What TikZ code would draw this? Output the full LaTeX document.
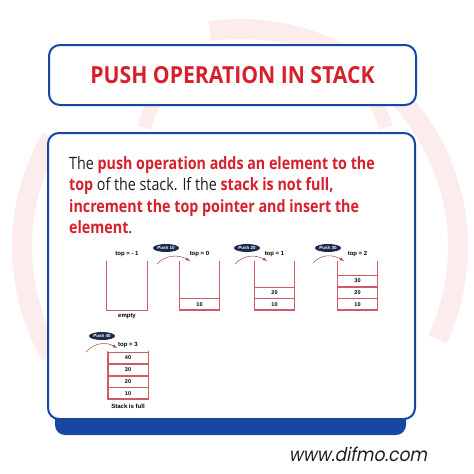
\documentclass[tikz,border=0pt]{standalone}
\usepackage{fontspec}
\setmainfont{Open Sans}
\newfontfamily\bodyfont[FakeStretch=0.84]{Open Sans}
\newfontfamily\titlefont[FakeStretch=0.9]{Open Sans}
\newfontfamily\labelfont{Liberation Sans}
\newfontfamily\webfont[FakeSlant=0.2,FakeStretch=0.9]{Poppins}
\usepackage{xcolor}
\usetikzlibrary{shapes, positioning}
\definecolor{frameblue}{RGB}{22,72,162}
\definecolor{headred}{RGB}{214,33,45}
\definecolor{wallred}{RGB}{205,90,100}
\definecolor{tagnavy}{RGB}{27,42,74}
\definecolor{swirlpink}{RGB}{252,236,236}
\definecolor{inkgray}{RGB}{30,30,30}
\newcommand{\redbold}[1]{\textcolor{headred}{\bfseries #1}}

\begin{document}
\begin{tikzpicture}[x=1pt, y=-1pt]
			\tikzstyle{swirl}=[swirlpink, line width=20pt]
			\tikzstyle{frame}=[draw=frameblue, line width=2pt, fill=white, rounded corners=11pt]
			\tikzstyle{bodyline}=[anchor=base west, inner sep=0pt, text=inkgray,
			font=\bodyfont\fontsize{17}{21}\selectfont]
			\tikzstyle{stackbox}=[rectangle, minimum width=40pt, minimum height=49pt, inner sep=0pt]
			\tikzstyle{stackwall}=[wallred, line width=0.8pt]
			\tikzstyle{cell}=[draw=wallred, line width=0.8pt, minimum width=40pt, minimum height=11pt,
			inner sep=0pt, anchor=south, font=\labelfont\bfseries\fontsize{5.5}{5.5}\selectfont]
			\tikzstyle{toplabel}=[inner sep=0pt, font=\labelfont\bfseries\fontsize{6}{6}\selectfont]
			\tikzstyle{pushtag}=[ellipse, fill=tagnavy, text=white, inner sep=0pt, minimum width=26pt,
			minimum height=8pt, font=\labelfont\bfseries\fontsize{4.5}{4.5}\selectfont]
			\tikzstyle{pusharrow}=[->, >=latex, wallred!80!black, line width=0.5pt]
			\useasboundingbox (0,0) rectangle (474,474);
			% faint swirl behind the cards
			\draw[swirl] (240,247) ++(150:218) arc[start angle=150, end angle=210, radius=218];
			\draw[swirl] (240,247) ++(262:218) arc[start angle=262, end angle=385, radius=218];
			\draw[swirl, line width=14pt] (265,160) ++(195:125) arc[start angle=195, end angle=228, radius=125];
			\draw[swirl, line width=14pt] (265,160) ++(305:125) arc[start angle=305, end angle=345, radius=125];
			%
			\node[frame, minimum width=367pt, minimum height=60pt] (title) at (232.5,75) {};
			\node[text=headred, inner sep=0pt, font=\titlefont\bfseries\fontsize{23.5}{23.5}\selectfont]
			(titletext) at (title.center) {PUSH OPERATION IN STACK};
			\fill[frameblue, rounded corners=10pt] (55,395) rectangle (406,435);
			\node[frame, minimum width=367pt, minimum height=286pt] (card) at (231.5,276) {};
			%
			\node[bodyline] (line1) at (69,169) {The \redbold{push operation adds an element to the}};
			\node[bodyline] (line2) at (69,190.5) {\redbold{top} of the stack. If the \redbold{stack is not full,}};
			\node[bodyline] (line3) at (69,212) {\redbold{increment the top pointer and insert the}};
			\node[bodyline] (line4) at (69,233.5) {\redbold{element}.};
			%
			\node[stackbox] (stack1) at (127,285.5) {};
			\node[stackbox] (stack2) at (199.5,285.5) {};
			\node[stackbox] (stack3) at (274.5,285.5) {};
			\node[stackbox] (stack4) at (357.5,285.5) {};
			\node[stackbox, minimum height=48pt] (stack5) at (128,375) {};
			\draw[stackwall] (stack1.north west) |- (stack1.south east) -- (stack1.north east);
			\draw[stackwall] (stack2.north west) |- (stack2.south east) -- (stack2.north east);
			\draw[stackwall] (stack3.north west) |- (stack3.south east) -- (stack3.north east);
			\draw[stackwall] (stack4.north west) |- (stack4.south east) -- (stack4.north east);
			\draw[stackwall] (stack5.north west) |- (stack5.south east) -- (stack5.north east);
			%
			\node[cell] (c2a) at (stack2.south) {10};
			\node[cell] (c3a) at (stack3.south) {10};
			\node[cell] (c3b) at (c3a.north) {20};
			\node[cell] (c4a) at (stack4.south) {10};
			\node[cell] (c4b) at (c4a.north) {20};
			\node[cell] (c4c) at (c4b.north) {30};
			\node[cell] (c5a) at (stack5.south) {10};
			\node[cell] (c5b) at (c5a.north) {20};
			\node[cell] (c5c) at (c5b.north) {30};
			\node[cell] (c5d) at (c5c.north) {40};
			%
			\node[toplabel, above=4pt of stack1] (top1) {top = - 1};
			\node[toplabel, above=4pt of stack2] (top2) {top = 0};
			\node[toplabel, above=4pt of stack3] (top3) {top = 1};
			\node[toplabel, above=4pt of stack4] (top4) {top = 2};
			\node[toplabel, above=3pt of stack5] (top5) {top = 3};
			\node[toplabel, below=3pt of stack1] (empty) {empty};
			\node[toplabel, below=5pt of stack5] (full) {Stack is full};
			%
			\node[pushtag] (push10) at (166,248) {Push 10};
			\node[pushtag] (push20) at (247,248) {Push 20};
			\node[pushtag] (push30) at (328,248) {Push 30};
			\node[pushtag] (push40) at (102,336) {Push 40};
			\coordinate (a2s) at (157,264);
			\coordinate (a2e) at (190,261);
			\coordinate (a3s) at (235,264);
			\coordinate (a3e) at (267,261);
			\coordinate (a4s) at (313,263);
			\coordinate (a4e) at (344,261);
			\coordinate (a5s) at (86,352);
			\coordinate (a5e) at (117,348);
			\draw[pusharrow] (a2s) .. controls +(9,-10) and +(-10,-6) .. (a2e);
			\draw[pusharrow] (a3s) .. controls +(9,-10) and +(-10,-6) .. (a3e);
			\draw[pusharrow] (a4s) .. controls +(9,-10) and +(-10,-6) .. (a4e);
			\draw[pusharrow] (a5s) .. controls +(9,-10) and +(-10,-6) .. (a5e);
			%
			\node[anchor=base, inner sep=0pt, text=inkgray, font=\webfont\fontsize{19}{19}\selectfont]
			(web) at (358,461) {www.difmo.com};
		\end{tikzpicture}
\end{document}
